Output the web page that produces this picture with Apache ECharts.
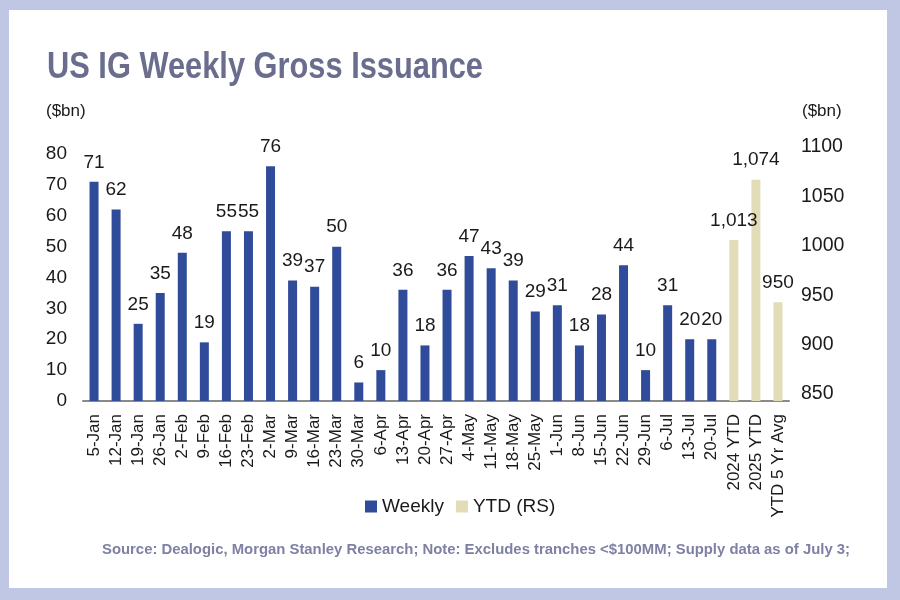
<!DOCTYPE html>
<html>
<head>
<meta charset="utf-8">
<script src="https://cdn.jsdelivr.net/npm/echarts@6/dist/echarts.min.js"></script>
<style>
html,body{margin:0;padding:0;background:#c0c7e5;}
#chart{width:900px;height:600px;}
</style>
</head>
<body>
<div id="chart"></div>
<script>
const categories = ['5-Jan','12-Jan','19-Jan','26-Jan','2-Feb','9-Feb','16-Feb','23-Feb','2-Mar','9-Mar','16-Mar','23-Mar','30-Mar','6-Apr','13-Apr','20-Apr','27-Apr','4-May','11-May','18-May','25-May','1-Jun','8-Jun','15-Jun','22-Jun','29-Jun','6-Jul','13-Jul','20-Jul','2024 YTD','2025 YTD','YTD 5 Yr Avg'];
const weeklyValues = [71,62,25,35,48,19,55,55,76,39,37,50,6,10,36,18,36,47,43,39,29,31,18,28,44,10,31,20,20];
const ytdCategories = ['2024 YTD','2025 YTD','YTD 5 Yr Avg'];
const ytdValues = [1013,1074,950];
const leftTicks = {min:0, max:80, interval:10};
const rightTicks = {min:850, max:1100, interval:50};

const weeklyData = categories.map((c,i)=> i < weeklyValues.length ? weeklyValues[i] : '-');
const ytdData = categories.map(c => { const k = ytdCategories.indexOf(c); return k >= 0 ? ytdValues[k] : '-'; });

const font = 'Liberation Sans, Arial, Helvetica, sans-serif';
const titleText = 'US IG Weekly Gross Issuance';
const sourceText = 'Source: Dealogic, Morgan Stanley Research; Note: Excludes tranches <$100MM; Supply data as of July 3;';
const titleFont = 'bold 36px "Liberation Sans", Arial, sans-serif';
const sourceFont = 'bold 15px "Liberation Sans", Arial, sans-serif';
const cv = document.createElement('canvas').getContext('2d');
function widthOf(f, t){ cv.font = f; return cv.measureText(t).width; }
const titleScale = 436 / widthOf(titleFont, titleText);
const sourceScale = 748 / widthOf(sourceFont, sourceText);

const chart = echarts.init(document.getElementById('chart'), null, {renderer:'canvas'});
chart.setOption({
  backgroundColor:'#c0c7e5',
  animation:false,
  textStyle:{fontFamily:font},
  graphic:[
    {type:'rect', shape:{x:9,y:10,width:878,height:578}, style:{fill:'#ffffff'}, z:-10},
    {type:'text', x:47, y:50, scaleX:titleScale, style:{x:0, y:0, text:titleText, font:titleFont, fill:'#6a6d8e', align:'left', verticalAlign:'top'}},
    {type:'text', left:46, top:103, style:{text:'($bn)', font:'17px "Liberation Sans", Arial, sans-serif', fill:'#1a1a1a'}},
    {type:'text', left:802, top:103, style:{text:'($bn)', font:'17px "Liberation Sans", Arial, sans-serif', fill:'#1a1a1a'}},
    {type:'text', x:850, y:542, scaleX:sourceScale, style:{x:0, y:0, text:sourceText, font:sourceFont, fill:'#7e80a4', align:'right', verticalAlign:'top'}}
  ],
  legend:{
    data:['Weekly','YTD (RS)'],
    left:360, top:492,
    icon:'rect', itemWidth:12, itemHeight:12, itemGap:12,
    textStyle:{fontSize:19, color:'#1a1a1a', fontFamily:font}
  },
  grid:{left:83, right:111, top:154, bottom:199},
  xAxis:{
    type:'category', data:categories,
    axisLine:{lineStyle:{color:'#8a8a8a', width:2}},
    axisTick:{show:false},
    axisLabel:{rotate:90, fontSize:17, color:'#1a1a1a', margin:13, interval:0, fontFamily:font}
  },
  yAxis:[
    {type:'value', min:leftTicks.min, max:leftTicks.max, interval:leftTicks.interval,
     axisLine:{show:false}, axisTick:{show:false}, splitLine:{show:false},
     axisLabel:{fontSize:19, color:'#1a1a1a', margin:16, fontFamily:font}},
    {type:'value', min:rightTicks.min, max:rightTicks.max, interval:rightTicks.interval, position:'right',
     axisLine:{show:false}, axisTick:{show:false}, splitLine:{show:false},
     axisLabel:{fontSize:19.5, color:'#1a1a1a', margin:12, fontFamily:font,
                verticalAlign:'bottom', lineHeight:14, formatter:v => String(v)}}
  ],
  series:[
    {name:'Weekly', type:'bar', data:weeklyData, yAxisIndex:0, barWidth:9, barGap:'-100%',
     itemStyle:{color:'#2f4b9a'},
     label:{show:true, position:'top', distance:10, fontSize:19, color:'#1a1a1a', fontFamily:font}},
    {name:'YTD (RS)', type:'bar', data:ytdData, yAxisIndex:1, barWidth:9, barGap:'-100%',
     itemStyle:{color:'#e2dcb8'},
     label:{show:true, position:'top', distance:10, fontSize:19, color:'#1a1a1a', fontFamily:font,
            formatter:p => p.value.toLocaleString('en-US')}}
  ]
});
</script>
</body>
</html>
